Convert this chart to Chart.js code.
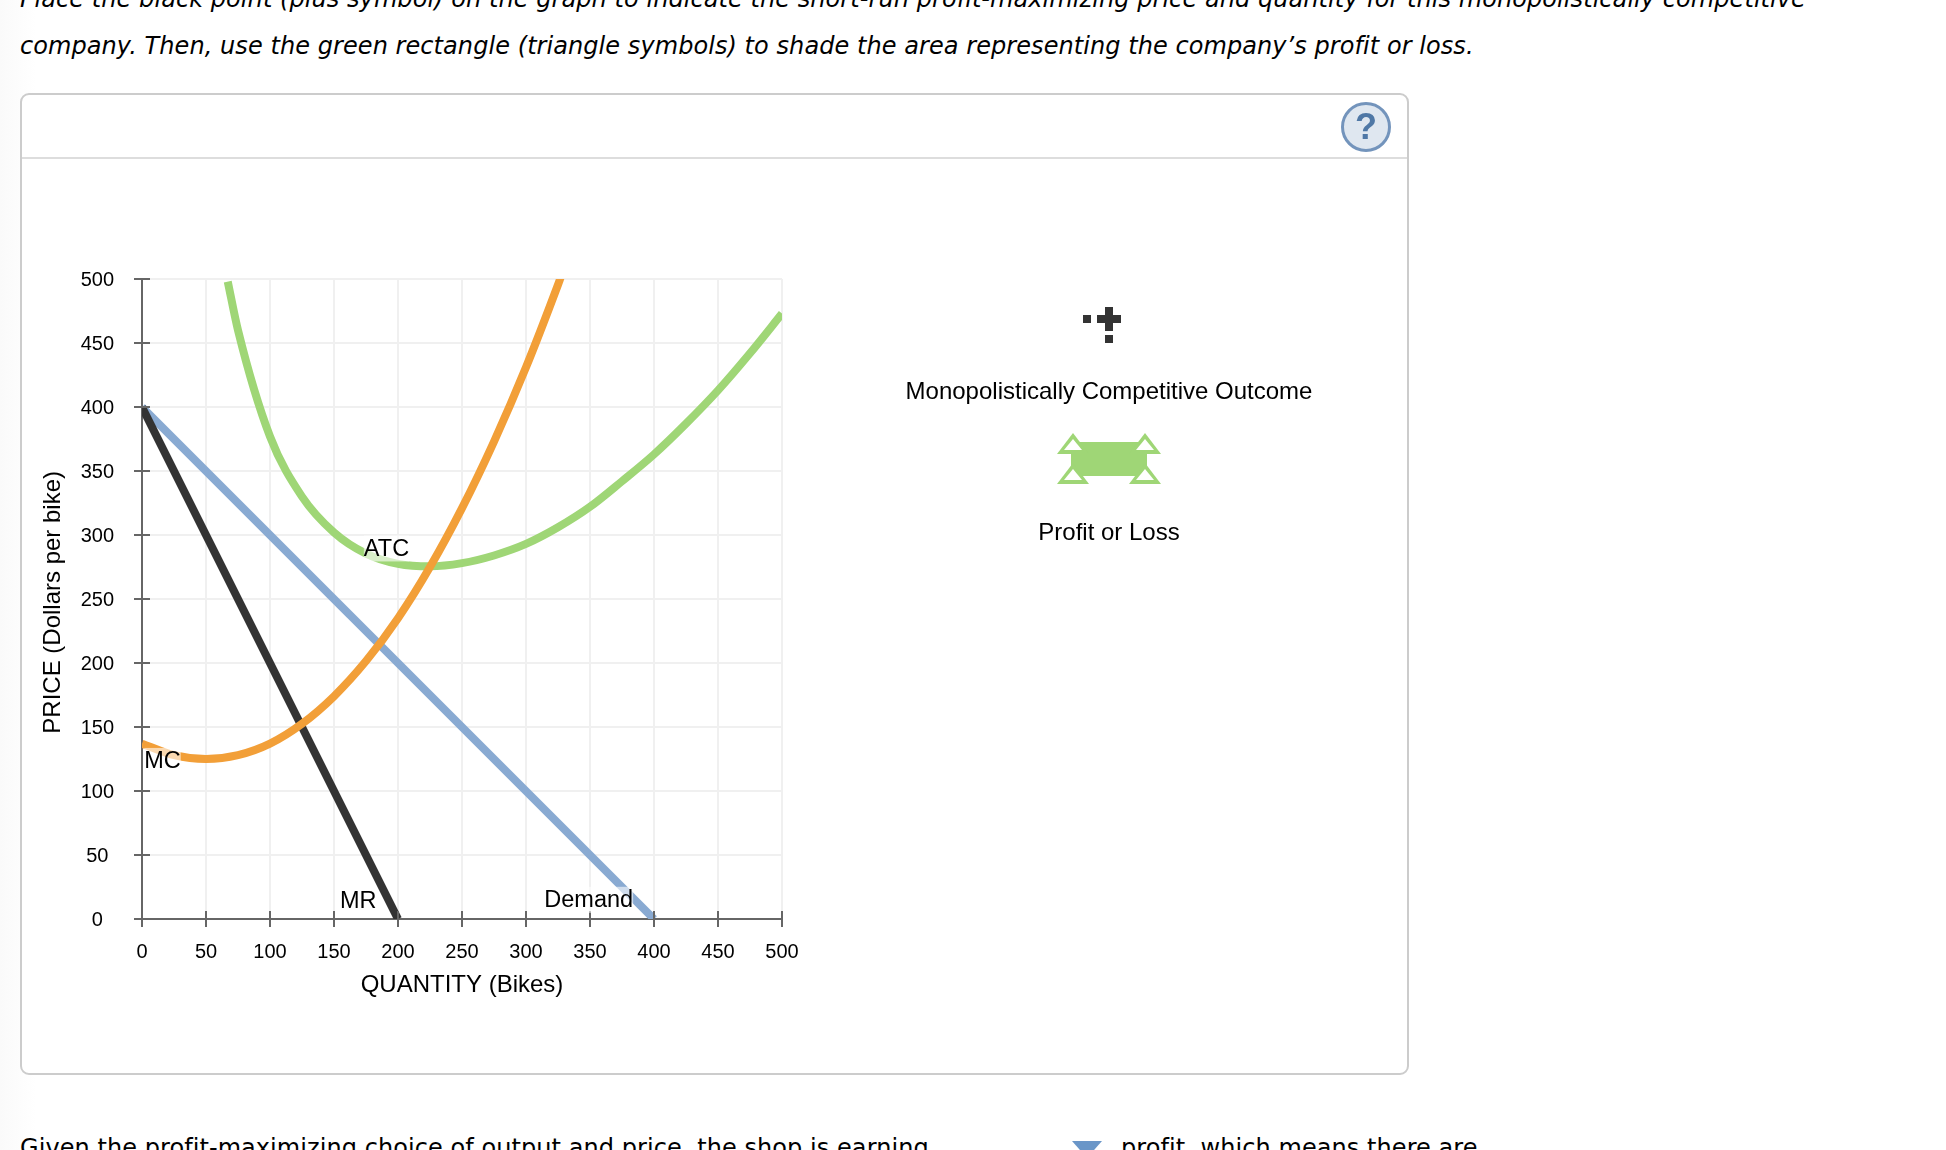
<!DOCTYPE html>
<html>
<head>
<meta charset="utf-8">
<title>Monopolistically competitive outcome</title>
<style>
    html, body { margin: 0; height: 100%; overflow: hidden; }
    body { position: relative; background: linear-gradient(to right, #fafafa, #fff 36px); color: #000; font-family: "DejaVu Sans", sans-serif; font-size: 24px; }
    .line { position: absolute; left: 20px; line-height: 45px; white-space: nowrap; letter-spacing: 0.065px; }
    .question { font-style: italic; }
    #panel { position: absolute; left: 20px; top: 93px; width: 1385px; height: 978px; background: #fff; border: 2px solid #ccc; border-radius: 9px; }
    #divider { position: absolute; left: 22px; top: 157px; width: 1385px; height: 2px; background: #ddd; }
    #help { position: absolute; left: 1341px; top: 102px; width: 44px; height: 44px; border: 3px solid #7394bc; border-radius: 50%; background: #dfe7f0; color: #4f78a6; font: bold 36px/44px "Liberation Sans", sans-serif; text-align: center; filter: blur(0.5px); }
    #chartWrap { position: absolute; left: 0; top: 230px; width: 830px; height: 800px; }
    .legendText { position: absolute; left: 809px; width: 600px; text-align: center; font: 24px "Liberation Sans", sans-serif; white-space: nowrap; }
    #legendIcons { position: absolute; left: 1040px; top: 300px; }
    #caret { position: absolute; left: 1072px; top: 1141px; width: 0; height: 0; border-left: 15px solid transparent; border-right: 15px solid transparent; border-top: 17px solid #6a96c8; }
</style>
</head>
<body>
<div class="line question" style="top:-23px">Place the black point (plus symbol) on the graph to indicate the short-run profit-maximizing price and quantity for this monopolistically competitive</div>
<div class="line question" style="top:24px">company. Then, use the green rectangle (triangle symbols) to shade the area representing the company’s profit or loss.</div>

<div id="panel"></div>
<div id="divider"></div>
<div id="help">?</div>

<div id="chartWrap"><canvas id="chart"></canvas></div>

<svg id="legendIcons" width="140" height="200" viewBox="1040 300 140 200">
    <g fill="#333">
        <rect x="1083" y="315" width="8" height="8"/>
        <rect x="1097" y="315" width="24" height="8"/>
        <rect x="1105" y="307" width="8" height="24"/>
        <rect x="1105" y="335" width="8" height="8"/>
    </g>
    <rect x="1071" y="442" width="76" height="34" fill="#9fd676"/>
    <g fill="#9fd676">
        <polygon points="1073,433 1057,454 1089,454"/>
        <polygon points="1145,433 1129,454 1161,454"/>
        <polygon points="1073,463 1057,484 1089,484"/>
        <polygon points="1145,463 1129,484 1161,484"/>
    </g>
    <g fill="#fff">
        <polygon points="1073,439 1064,450 1082,450"/>
        <polygon points="1145,439 1136,450 1154,450"/>
        <polygon points="1073,469 1064,480 1082,480"/>
        <polygon points="1145,469 1136,480 1154,480"/>
    </g>
</svg>
<div class="legendText" style="top:377px">Monopolistically Competitive Outcome</div>
<div class="legendText" style="top:518px">Profit or Loss</div>

<div class="line" style="top:1126px">Given the profit-maximizing choice of output and price, the shop is earning</div>
<div id="caret"></div>
<div class="line" style="top:1126px;left:1121px">profit, which means there are</div>

<script src="https://cdn.jsdelivr.net/npm/chart.js@4"></script>
<script>
// --- DATA ---
const axisTicks = [0, 50, 100, 150, 200, 250, 300, 350, 400, 450, 500];

const demandQty = [0, 400];
const demandPrice = [400, 0];

const mrQty = [0, 200];
const mrPrice = [400, 0];

const mcQty = [0, 25, 50, 75, 100, 125, 150, 175, 200, 225, 250, 275, 300, 325, 327];
const mcPrice = [137, 128, 125, 128, 137, 152.5, 174, 201.5, 235, 275, 321, 373, 431, 495.5, 501];

const atcQty = [67, 75, 100, 125, 150, 175, 200, 225, 250, 275, 300, 325, 350, 375, 400, 425, 450, 475, 500];
const atcPrice = [498, 460, 377, 330, 302, 285.5, 277.5, 275.5, 278, 284, 293, 306, 322, 342, 363, 387, 413, 442, 473];

// label text with the curve coordinates it sits at
const curveLabels = [
    { text: 'ATC', x: 191, y: 289.5 },
    { text: 'MC', x: 16, y: 123.5 },
    { text: 'MR', x: 169, y: 14.5 },
    { text: 'Demand', x: 349, y: 15 }
];

const toPoints = (xs, ys) => xs.map((x, i) => ({ x, y: ys[i] }));

const curve = (label, xs, ys, color) => ({
    label,
    data: toPoints(xs, ys),
    showLine: true,
    borderColor: color,
    borderWidth: 8,
    pointRadius: 0,
    cubicInterpolationMode: 'monotone'
});

const FONT = '"Liberation Sans", sans-serif';

// Ticks cross the axis lines, and the labels have a pale box that shows the curve through it
const extras = {
    id: 'extras',
    afterDatasetsDraw(chart) {
        const { ctx, scales: { x, y } } = chart;
        ctx.save();
        ctx.strokeStyle = '#666';
        ctx.lineWidth = 2;
        ctx.beginPath();
        axisTicks.forEach(t => {
            ctx.moveTo(x.left - 8, y.getPixelForValue(t));
            ctx.lineTo(x.left + 8, y.getPixelForValue(t));
            ctx.moveTo(x.getPixelForValue(t), y.bottom - 8);
            ctx.lineTo(x.getPixelForValue(t), y.bottom + 8);
        });
        ctx.stroke();

        ctx.font = '23.5px ' + FONT;
        ctx.textAlign = 'center';
        ctx.textBaseline = 'middle';
        curveLabels.forEach(l => {
            const px = x.getPixelForValue(l.x);
            const py = y.getPixelForValue(l.y);
            const w = ctx.measureText(l.text).width;
            ctx.fillStyle = 'rgba(255,255,255,0.6)';
            ctx.fillRect(px - w / 2, py - 13, w, 26);
            ctx.fillStyle = '#000';
            ctx.fillText(l.text, px, py + 1);
        });
        ctx.restore();
    }
};

const axis = (title, titlePadding) => ({
    type: 'linear',
    min: 0,
    max: 500,
    afterBuildTicks: scale => { scale.ticks = axisTicks.map(value => ({ value })); },
    grid: { color: '#f0f0f0', lineWidth: 2, drawTicks: false },
    border: { color: '#666', width: 2 },
    title: { display: true, text: title, color: '#000', font: { family: FONT, size: 24 }, padding: titlePadding }
});

const xAxis = axis('QUANTITY (Bikes)', { top: 0, bottom: 30 });
xAxis.ticks = { color: '#000', font: { family: FONT, size: 20 }, maxRotation: 0, autoSkip: false, padding: 21 };
xAxis.afterFit = scale => { scale.height = 111; };

// trailing space nudges the centred title down to where the reference has it
const yAxis = axis('PRICE (Dollars per bike) ', { top: 39, bottom: 0 });
yAxis.ticks = { color: '#000', font: { family: FONT, size: 20 }, autoSkip: false, crossAlign: 'center', padding: 28, labelOffset: 1 };
yAxis.afterFit = scale => { scale.width = 142; };

new Chart(document.getElementById('chart'), {
    type: 'scatter',
    data: {
        datasets: [
            curve('MC', mcQty, mcPrice, '#f29f38'),
            curve('ATC', atcQty, atcPrice, '#9fd676'),
            curve('MR', mrQty, mrPrice, '#333333'),
            curve('Demand', demandQty, demandPrice, '#89aad2')
        ]
    },
    options: {
        responsive: true,
        maintainAspectRatio: false,
        animation: false,
        layout: { padding: { left: 0, right: 48, top: 49, bottom: 0 } },
        plugins: { legend: { display: false }, tooltip: { enabled: false } },
        scales: { x: xAxis, y: yAxis }
    },
    plugins: [extras]
});
</script>
</body>
</html>
